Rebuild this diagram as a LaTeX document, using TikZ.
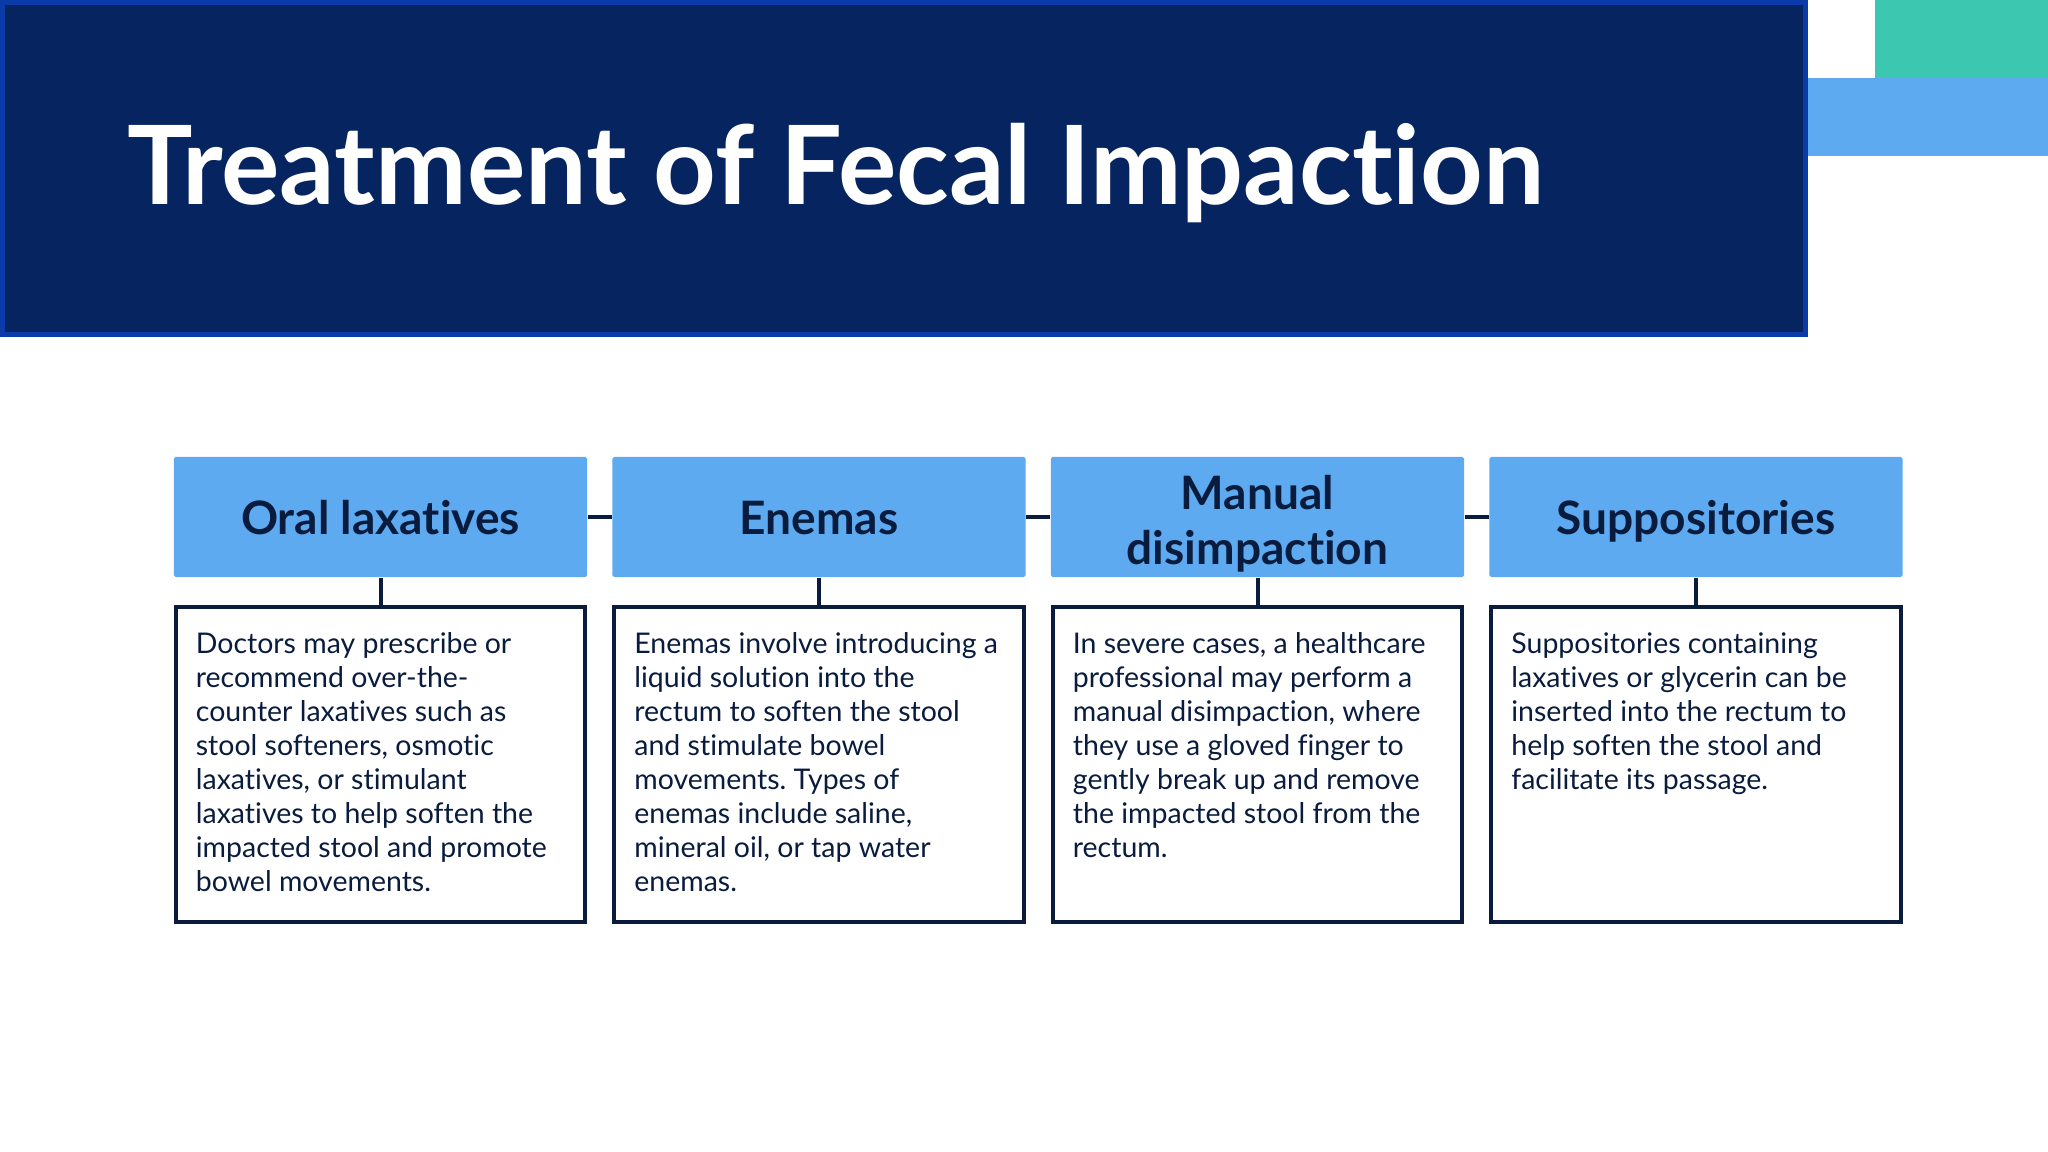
\documentclass[tikz,border=0pt]{standalone}
\usepackage{fontspec}
\setmainfont{Lato}[Ligatures=CommonOff]
\frenchspacing
\definecolor{banner}{HTML}{062560}
\definecolor{bannerline}{HTML}{0A3BA8}
\definecolor{teal}{HTML}{3CC8B0}
\definecolor{sky}{HTML}{5DAAF0}
\definecolor{ink}{HTML}{0A1C3E}

\begin{document}
\begin{tikzpicture}[
                x=0.01cm, y=-0.01cm,
                head/.style={
                  fill=sky,
                  rounded corners=0.5pt,
                  minimum width=4.13cm,
                  minimum height=1.2cm,
                  align=center,
                  text=ink,
                  font=\fontsize{13.1}{15.65}\selectfont\bfseries,
                },
                oneline/.style={text height=10.2pt, text depth=0pt},
                body/.style={
                  draw=ink,
                  line width=0.04cm,
                  anchor=north,
                  inner xsep=0.2cm,
                  inner ysep=0.23cm,
                  text=ink,
                  font=\fontsize{8.1}{9.67}\selectfont,
                },
                link/.style={draw=ink, line width=0.04cm},
              ]
              \useasboundingbox (0,0) rectangle (2048,1152);
              % title band and corner blocks
              \fill[teal] (1875,0) rectangle (2048,78);
              \fill[sky] (1807,78) rectangle (2048,156);
              \draw[bannerline, fill=banner, line width=0.05cm] (2.5,2.5) rectangle (1805,335);
              \node[anchor=base west, text=white, inner sep=0pt,
                    font=\fontsize{31.1}{37}\selectfont\bfseries] (title) at (127,205)
                    {Treatment of Fecal Impaction};
              % headers
              \node[head, oneline] (oral) at (380.5,517) {Oral laxatives};
              \node[head, oneline] (enema) at (819,517) {Enemas};
              \node[head, inner ysep=0pt] (manual) at (1257.5,517) {\rule{0pt}{13.3pt}Manual\\disimpaction};
              \node[head, oneline] (supp) at (1696,517) {Suppositories};
              % text boxes
              \node[body] (oraltxt) at (380.5,605) {\parbox[t][2.69cm][t]{3.69cm}{\raggedright\strut
                Doctors may prescribe or\\recommend over-the-\\counter laxatives such as\\stool softeners, osmotic\\laxatives, or stimulant\\laxatives to help soften the\\impacted stool and promote\\bowel movements.}};
              \node[body] (enematxt) at (819,605) {\parbox[t][2.69cm][t]{3.69cm}{\raggedright\strut
                Enemas involve introducing a\\liquid solution into the\\rectum to soften the stool\\and stimulate bowel\\movements. Types of\\enemas include saline,\\mineral oil, or tap water\\enemas.}};
              \node[body] (manualtxt) at (1257.5,605) {\parbox[t][2.69cm][t]{3.69cm}{\raggedright\strut
                In severe cases, a healthcare\\professional may perform a\\manual disimpaction, where\\they use a gloved finger to\\gently break up and remove\\the impacted stool from the\\rectum.}};
              \node[body] (supptxt) at (1696,605) {\parbox[t][2.69cm][t]{3.69cm}{\raggedright\strut
                Suppositories containing\\laxatives or glycerin can be\\inserted into the rectum to\\help soften the stool and\\facilitate its passage.}};
              % connectors
              \draw[link] (oral)--(enema) ;
              \draw[link] (enema)--(manual) ;
              \draw[link] (manual)--(supp) ;
              \draw[link] (oral)--(oraltxt) ;
              \draw[link] (enema)--(enematxt) ;
              \draw[link] (manual)--(manualtxt) ;
              \draw[link] (supp)--(supptxt) ;
              \end{tikzpicture}
\end{document}
